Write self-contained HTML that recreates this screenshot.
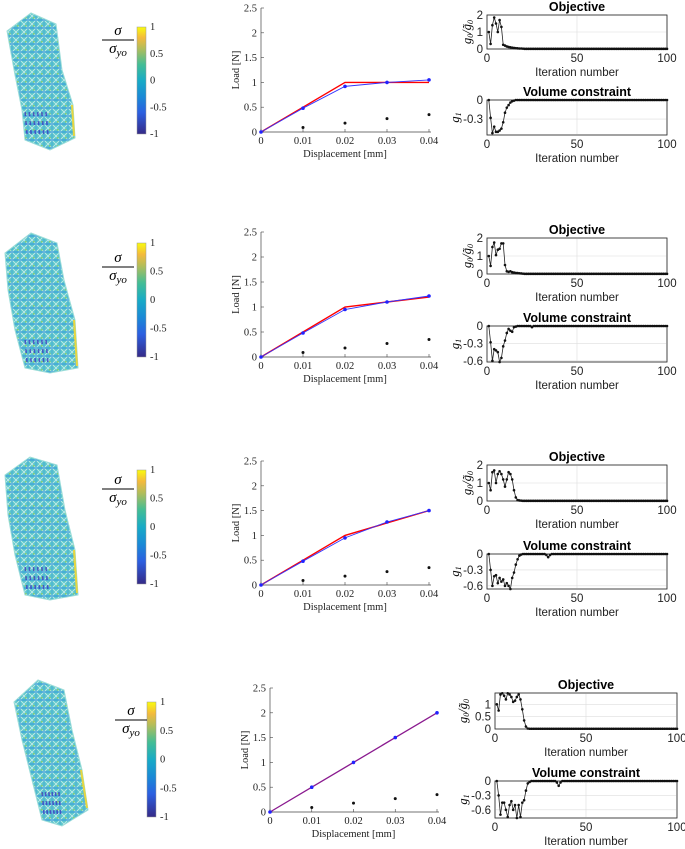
<!DOCTYPE html>
<html><head><meta charset="utf-8"><style>
body{margin:0;background:#fff;}
svg{display:block;}
.tk{font-family:"Liberation Sans",sans-serif;font-size:11.5px;fill:#222;}
.tks{font-family:"Liberation Serif",serif;font-size:10.5px;fill:#222;}
.ttl{font-family:"Liberation Sans",sans-serif;font-size:12.5px;font-weight:bold;fill:#000;}
</style></head><body>
<svg id="fig" width="685" height="849" viewBox="0 0 685 849" xmlns="http://www.w3.org/2000/svg">
<defs>
<linearGradient id="parula" x1="0" y1="1" x2="0" y2="0">
<stop offset="0" stop-color="#352a87"/><stop offset="0.2" stop-color="#2c5fe0"/><stop offset="0.35" stop-color="#1a8ad6"/>
<stop offset="0.5" stop-color="#18abc6"/><stop offset="0.65" stop-color="#43bd95"/><stop offset="0.8" stop-color="#b3bd5a"/>
<stop offset="0.9" stop-color="#f4ba3c"/><stop offset="1" stop-color="#f9fb0e"/></linearGradient>
<pattern id="lat" width="8" height="8" patternUnits="userSpaceOnUse">
<rect width="8" height="8" fill="#5cc6cc"/><path d="M0 0L8 8M8 0L0 8" stroke="#c6ece6" stroke-width="0.8"/>
<path d="M0 4H8" stroke="#2f8fe0" stroke-width="0.9"/><path d="M4 0V8" stroke="#3aa0d8" stroke-width="0.6"/>
<rect x="1" y="1" width="1.5" height="1.5" fill="#8fcf6a"/></pattern>
</defs>
</svg>
<script>
// ---- data ----
const dispCats=[0,0.01,0.02,0.03,0.04];
const loadTicks=[0,0.5,1,1.5,2,2.5];
const dispTickLabels=["0","0.01","0.02","0.03","0.04"];
const dotsLoad=[0,0.09,0.18,0.27,0.35];
const red1=[0,0.5,1,1,1];        const blue1=[0,0.48,0.92,1.0,1.05];
const red2=[0,0.5,1,1.1,1.2];    const blue2=[0,0.48,0.95,1.1,1.22];
const red3=[0,0.5,1,1.25,1.5];   const blue3=[0,0.48,0.95,1.27,1.5];
const red4=[0,0.5,1,1.5,2];      const blue4=[0,0.5,1,1.5,2];
const obj1=[1,0.3,1.4,1.85,1.5,1.0,1.7,1.3,0.25,0.2,0.15,0.12,0.1,0.08,0.06,0.05,0.04,0.03,0.03,0.02,
0.01,0.01,0.01,0.01,0.01,0.01,0.01,0.01,0.01,0.01,0.01,0.01,0.01,0.01,0.01,0.01,0.01,0.01,0.01,0.01,
0.01,0.01,0.01,0.01,0.01,0.01,0.01,0.01,0.01,0.01,0.01,0.01,0.01,0.01,0.01,0.01,0.01,0.01,0.01,0.01,
0.01,0.01,0.01,0.01,0.01,0.01,0.01,0.01,0.01,0.01,0.01,0.01,0.01,0.01,0.01,0.01,0.01,0.01,0.01,0.01,
0.01,0.01,0.01,0.01,0.01,0.01,0.01,0.01,0.01,0.01,0.01,0.01,0.01,0.01,0.01,0.01,0.01,0.01,0.01,0.01];
const vol1=[0,-0.28,-0.52,-0.42,-0.5,-0.5,-0.48,-0.45,-0.35,-0.2,-0.12,-0.08,-0.04,-0.02,-0.01,0,0,0,0,0,
0,0,0,0,0,0,0,0,0,0,0,0,0,0,0,0,0,0,0,0,0,0,0,0,0,0,0,0,0,0,0,0,0,0,0,0,0,0,0,0,
0,0,0,0,0,0,0,0,0,0,0,0,0,0,0,0,0,0,0,0,0,0,0,0,0,0,0,0,0,0,0,0,0,0,0,0,0,0,0,0];
const obj2=[1,0.45,1.5,1.75,1.05,1.35,1.4,1.7,1.7,0.5,0.15,0.12,0.15,0.1,0.08,0.06,0.05,0.04,0.03,0.02,
0.01,0.01,0.01,0.01,0.01,0.01,0.01,0.01,0.01,0.01,0.01,0.01,0.01,0.01,0.01,0.01,0.01,0.01,0.01,0.01,
0.01,0.01,0.01,0.01,0.01,0.01,0.01,0.01,0.01,0.01,0.01,0.01,0.01,0.01,0.01,0.01,0.01,0.01,0.01,0.01,
0.01,0.01,0.01,0.01,0.01,0.01,0.01,0.01,0.01,0.01,0.01,0.01,0.01,0.01,0.01,0.01,0.01,0.01,0.01,0.01,
0.01,0.01,0.01,0.01,0.01,0.01,0.01,0.01,0.01,0.01,0.01,0.01,0.01,0.01,0.01,0.01,0.01,0.01,0.01,0.01];
const vol2=[0,-0.28,-0.6,-0.4,-0.42,-0.45,-0.62,-0.55,-0.35,-0.25,-0.12,-0.05,-0.08,-0.1,-0.02,-0.01,0,0,0,0,
0,0,0,0,-0.02,0,0,0,0,0,0,0,0,0,0,0,0,0,0,0,0,0,0,0,0,0,0,0,0,0,0,0,0,0,0,0,0,0,0,0,
0,0,0,0,0,0,0,0,0,0,0,0,0,0,0,0,0,0,0,0,0,0,0,0,0,0,0,0,0,0,0,0,0,0,0,0,0,0,0,0];
const obj3=[1,0.6,1.6,1.7,1.0,1.5,1.65,1.5,1.2,0.8,1.2,1.6,1.5,1.2,0.6,0.2,0.05,0.03,0.02,0.01,
0.01,0.01,0.01,0.01,0.01,0.01,0.01,0.01,0.01,0.01,0.01,0.01,0.01,0.01,0.01,0.01,0.01,0.01,0.01,0.01,
0.01,0.01,0.01,0.01,0.01,0.01,0.01,0.01,0.01,0.01,0.01,0.01,0.01,0.01,0.01,0.01,0.01,0.01,0.01,0.01,
0.01,0.01,0.01,0.01,0.01,0.01,0.01,0.01,0.01,0.01,0.01,0.01,0.01,0.01,0.01,0.01,0.01,0.01,0.01,0.01,
0.01,0.01,0.01,0.01,0.01,0.01,0.01,0.01,0.01,0.01,0.01,0.01,0.01,0.01,0.01,0.01,0.01,0.01,0.01,0.01];
const vol3=[0,-0.3,-0.6,-0.42,-0.4,-0.55,-0.45,-0.52,-0.48,-0.6,-0.55,-0.6,-0.66,-0.45,-0.35,-0.2,-0.1,-0.03,-0.01,0,
0,0,0,0,0,0,0,0,0,0,0,0,-0.02,-0.06,-0.02,0,0,0,0,0,0,0,0,0,0,0,0,0,0,0,0,0,0,0,0,0,0,0,0,0,
0,0,0,0,0,0,0,0,0,0,0,0,0,0,0,0,0,0,0,0,0,0,0,0,0,0,0,0,0,0,0,0,0,0,0,0,0,0,0,0];
const obj4=[1,0.75,1.4,1.45,1.35,1.2,1.45,1.4,1.3,1.1,1.15,1.3,1.4,1.2,0.8,0.35,0.1,0.02,0.01,0.01,
0.01,0.01,0.01,0.01,0.01,0.01,0.01,0.01,0.01,0.01,0.01,0.01,0.01,0.01,0.01,0.01,0.01,0.01,0.01,0.01,
0.01,0.01,0.01,0.01,0.01,0.01,0.01,0.01,0.01,0.01,0.01,0.01,0.01,0.01,0.01,0.01,0.01,0.01,0.01,0.01,
0.01,0.01,0.01,0.01,0.01,0.01,0.01,0.01,0.01,0.01,0.01,0.01,0.01,0.01,0.01,0.01,0.01,0.01,0.01,0.01,
0.01,0.01,0.01,0.01,0.01,0.01,0.01,0.01,0.01,0.01,0.01,0.01,0.01,0.01,0.01,0.01,0.01,0.01,0.01,0.01];
const vol4=[0,-0.3,-0.7,-0.45,-0.45,-0.6,-0.75,-0.5,-0.42,-0.6,-0.5,-0.77,-0.5,-0.75,-0.45,-0.4,-0.2,-0.05,-0.02,0,
0,0,0,0,0,0,0,0,0,0,0,0,0,-0.03,-0.1,-0.03,0,0,0,0,0,0,0,0,0,0,0,0,0,0,0,0,0,0,0,0,0,0,0,0,
0,0,0,0,0,0,0,0,0,0,0,0,0,0,0,0,0,0,0,0,0,0,0,0,0,0,0,0,0,0,0,0,0,0,0,0,0,0,0,0];
const iterTicks=[0,50,100];
const cbTicks=[1,0.5,0,-0.5,-1];

// ---- drawing ----
const svg=document.getElementById('fig');
const NS='http://www.w3.org/2000/svg';
function mk(tag,attrs,parent){const e=document.createElementNS(NS,tag);for(const k in attrs)e.setAttribute(k,attrs[k]);(parent||svg).appendChild(e);return e;}
function txt(s,x,y,cls,anchor,parent){const t=mk('text',{x:x,y:y,class:cls,'text-anchor':anchor||'middle'},parent);t.textContent=s;return t;}

const rows=[
 {lat:"7,31 31,13 56,24 62,70 73,105 75,138 50,150 25,140 22,110 15,75",cb:[137,27,134],fr:[118,40],
  load:{x0:261,x1:429,y0:132,y1:8},red:red1,blue:blue1,
  it:{x0:487,x1:667},obj:{yt:15,yb:49,max:2,ticks:[0,1,2],lab:["0","1","2"],d:obj1},
  vol:{yt:100,yb:135,min:-0.55,ticks:[0,-0.3],lab:["0","-0.3"],d:vol1}},
 {lat:"5,253 31,233 57,243 64,280 75,320 78,368 50,373 25,368 15,330 8,290",cb:[137,243,357],fr:[118,267],
  load:{x0:261,x1:429,y0:357,y1:232},red:red2,blue:blue2,
  it:{x0:487,x1:667},obj:{yt:238,yb:274,max:2,ticks:[0,1,2],lab:["0","1","2"],d:obj2},
  vol:{yt:326,yb:362,min:-0.62,ticks:[0,-0.3,-0.6],lab:["0","-0.3","-0.6"],d:vol2}},
 {lat:"5,475 30,457 57,465 65,510 75,550 78,595 50,600 25,595 15,555 8,515",cb:[137,470,584],fr:[118,489],
  load:{x0:261,x1:429,y0:585,y1:461},red:red3,blue:blue3,
  it:{x0:487,x1:667},obj:{yt:465,yb:501,max:2,ticks:[0,1,2],lab:["0","1","2"],d:obj3},
  vol:{yt:554,yb:589,min:-0.66,ticks:[0,-0.3,-0.6],lab:["0","-0.3","-0.6"],d:vol3}},
 {lat:"14,702 38,680 64,690 72,730 82,770 88,810 62,826 42,820 32,780 22,740",cb:[147,702,817],fr:[131,720],
  load:{x0:270,x1:437,y0:812,y1:688},red:red4,blue:blue4,purple:true,
  it:{x0:495,x1:677},obj:{yt:693,yb:729,max:1.46,ticks:[0,0.5,1],lab:["0","0.5","1"],d:obj4},
  vol:{yt:781,yb:818,min:-0.77,ticks:[0,-0.3,-0.6],lab:["0","-0.3","-0.6"],d:vol4}}
];

rows.forEach((r,ri)=>{
 const g=mk('g',{});
 
 
 // lattice
 const lat=mk('polygon',{points:r.lat,fill:'url(#lat)',stroke:'#9adcd8','stroke-width':1},g);
 
 
 // dark blue strut strokes and yellow right edge
 const p=r.lat.split(' ').map(s=>s.split(',').map(Number));
 const bl=p[7], br=p[6], rt=p[5];
 const strokes=mk('g',{},g);
 
 
 for(let k=0;k<6;k++){
  const x=bl[0]+k*(br[0]-bl[0])/6+2;
  mk('line',{x1:x,x2:x-2,y1:bl[1]-6,y2:bl[1]-30,stroke:'#3a3ec0','stroke-width':1.6,'stroke-dasharray':'4 5',opacity:0.8},strokes);
 }
 mk('line',{x1:p[4][0]-1,y1:p[4][1],x2:rt[0]-1,y2:rt[1]-2,stroke:'#e8d640','stroke-width':2},strokes);
 // colorbar
 const [cx,cy0,cy1]=r.cb;
 const cb=mk('rect',{x:cx,y:cy0,width:9,height:cy1-cy0,fill:'url(#parula)',stroke:'#999','stroke-width':0.5},g);
 
 
 cbTicks.forEach((v)=>{const y=cy0+(1-v)/2*(cy1-cy0);
   const t=txt(String(v),cx+13,y+3,'tks','start',g);t.setAttribute('font-size','9');
   
   });
 const [fx,fy]=r.fr;
 const fs=mk('text',{x:fx,y:fy-5,'text-anchor':'middle','font-family':'Liberation Serif,serif','font-style':'italic','font-size':'15'},g);fs.textContent='σ';
 
 
 mk('line',{x1:fx-16,x2:fx+16,y1:fy,y2:fy,stroke:'#000','stroke-width':1},g);
 const fd=mk('text',{x:fx,y:fy+13,'text-anchor':'middle','font-family':'Liberation Serif,serif','font-style':'italic','font-size':'15'},g);
 fd.innerHTML='σ<tspan font-size="11" dy="3">yo</tspan>';

 // load chart
 const L=r.load;
 const xs=v=>L.x0+(v/0.04)*(L.x1-L.x0);
 const ys=v=>L.y0-(v/2.5)*(L.y0-L.y1);
 const lg=mk('g',{},g);
 
 
 mk('line',{x1:L.x0,x2:L.x0,y1:L.y1,y2:L.y0,stroke:'#444','stroke-width':0.7},lg);
 mk('line',{x1:L.x0,x2:L.x1+2,y1:L.y0,y2:L.y0,stroke:'#444','stroke-width':0.7},lg);
 loadTicks.forEach(v=>{mk('line',{x1:L.x0,x2:L.x0+3,y1:ys(v),y2:ys(v),stroke:'#444','stroke-width':0.6},lg);
   const t=txt(String(v),L.x0-4,ys(v)+3.5,'tks','end',lg);
   
   });
 dispCats.forEach((v,i)=>{mk('line',{x1:xs(v),x2:xs(v),y1:L.y0,y2:L.y0-3,stroke:'#444','stroke-width':0.6},lg);
   const t=txt(dispTickLabels[i],xs(v),L.y0+12,'tks','middle',lg);
   
   });
 const xl=txt('Displacement [mm]',(L.x0+L.x1)/2,L.y0+25,'tks','middle',lg);xl.setAttribute('font-size','11.5');
 
 
 const ym=(L.y0+L.y1)/2;
 const yl=txt('Load [N]',L.x0-22,ym,'tks','middle',lg);yl.setAttribute('font-size','11.5');
 yl.setAttribute('transform',`rotate(-90 ${L.x0-22} ${ym})`);
 
 
 const redPts=dispCats.map((v,i)=>xs(v)+','+ys(r.red[i])).join(' ');
 const bluePts=dispCats.map((v,i)=>xs(v)+','+ys(r.blue[i])).join(' ');
 if(r.purple){
  const pl=mk('polyline',{points:redPts,fill:'none',stroke:'#8a1a8f','stroke-width':1.3},lg);
  
  
 } else {
  const rl=mk('polyline',{points:redPts,fill:'none',stroke:'#f00','stroke-width':1.4},lg);
  
  
  const bl2=mk('polyline',{points:bluePts,fill:'none',stroke:'#33f','stroke-width':0.9},lg);
  
  
 }
 dispCats.forEach((v,i)=>{const c=mk('circle',{cx:xs(v),cy:ys(r.blue[i]),r:1.8,fill:'#22f'},lg);
   
   
   if(i>0){const d=mk('circle',{cx:xs(v),cy:ys(dotsLoad[i]),r:1.5,fill:'#111'},lg);
   
   }});

 // iteration charts
 function iterPlot(P,isObj){
  const I=r.it;
  const pg=mk('g',{},g);
  
  
  const xs2=v=>I.x0+(v/100)*(I.x1-I.x0);
  const lo=isObj?0:P.min, hi=isObj?P.max:0;
  const ys2=v=>P.yb-(v-lo)/(hi-lo)*(P.yb-P.yt);
  mk('rect',{x:I.x0,y:P.yt,width:I.x1-I.x0,height:P.yb-P.yt,fill:'#fff',stroke:'#333','stroke-width':0.7},pg);
  P.ticks.forEach((v,i)=>{const y=ys2(v);
    if(y>P.yt+1&&y<P.yb-1)mk('line',{x1:I.x0,x2:I.x1,y1:y,y2:y,stroke:'#ddd','stroke-width':0.6},pg);
    const t=txt(P.lab[i],I.x0-4,y+4,'tk','end',pg);
    
    });
  iterTicks.forEach(v=>{const x=xs2(v);
    if(v===50)mk('line',{x1:x,x2:x,y1:P.yt,y2:P.yb,stroke:'#ddd','stroke-width':0.6},pg);
    const t=txt(String(v),x,P.yb+13,'tk','middle',pg);
    
    });
  mk('rect',{x:I.x0,y:P.yt,width:I.x1-I.x0,height:P.yb-P.yt,fill:'none',stroke:'#333','stroke-width':0.7},pg);
  const pts=P.d.map((v,i)=>xs2(i+1)+','+ys2(v)).join(' ');
  const ln=mk('polyline',{points:pts,fill:'none',stroke:'#222','stroke-width':0.8},pg);
  
  
  P.d.forEach((v,i)=>{const c=mk('circle',{cx:xs2(i+1),cy:ys2(v),r:1.3,fill:'#111'},pg);
    
    });
  const tt=txt(isObj?'Objective':'Volume constraint',(I.x0+I.x1)/2,P.yt-4,'ttl','middle',pg);
  
  
  const xt=txt('Iteration number',(I.x0+I.x1)/2,P.yb+27,'tk','middle',pg);xt.setAttribute('font-size','12.5');
  
  
  const my=(P.yt+P.yb)/2, lx=I.x0-(isObj?(P.max<2?28:16):28);
  const yt=mk('text',{x:lx,y:my,'text-anchor':'middle','font-family':'Liberation Serif,serif','font-style':'italic','font-size':'12.5',transform:`rotate(-90 ${lx} ${my})`},pg);
  yt.innerHTML=isObj?'g<tspan font-size="8" dy="2">0</tspan><tspan dy="-2">/g̃</tspan><tspan font-size="8" dy="2">0</tspan>':'g<tspan font-size="8" dy="2">1</tspan>';
  
  
 }
 iterPlot(r.obj,true);
 iterPlot(r.vol,false);
});
</script>
</body></html>
